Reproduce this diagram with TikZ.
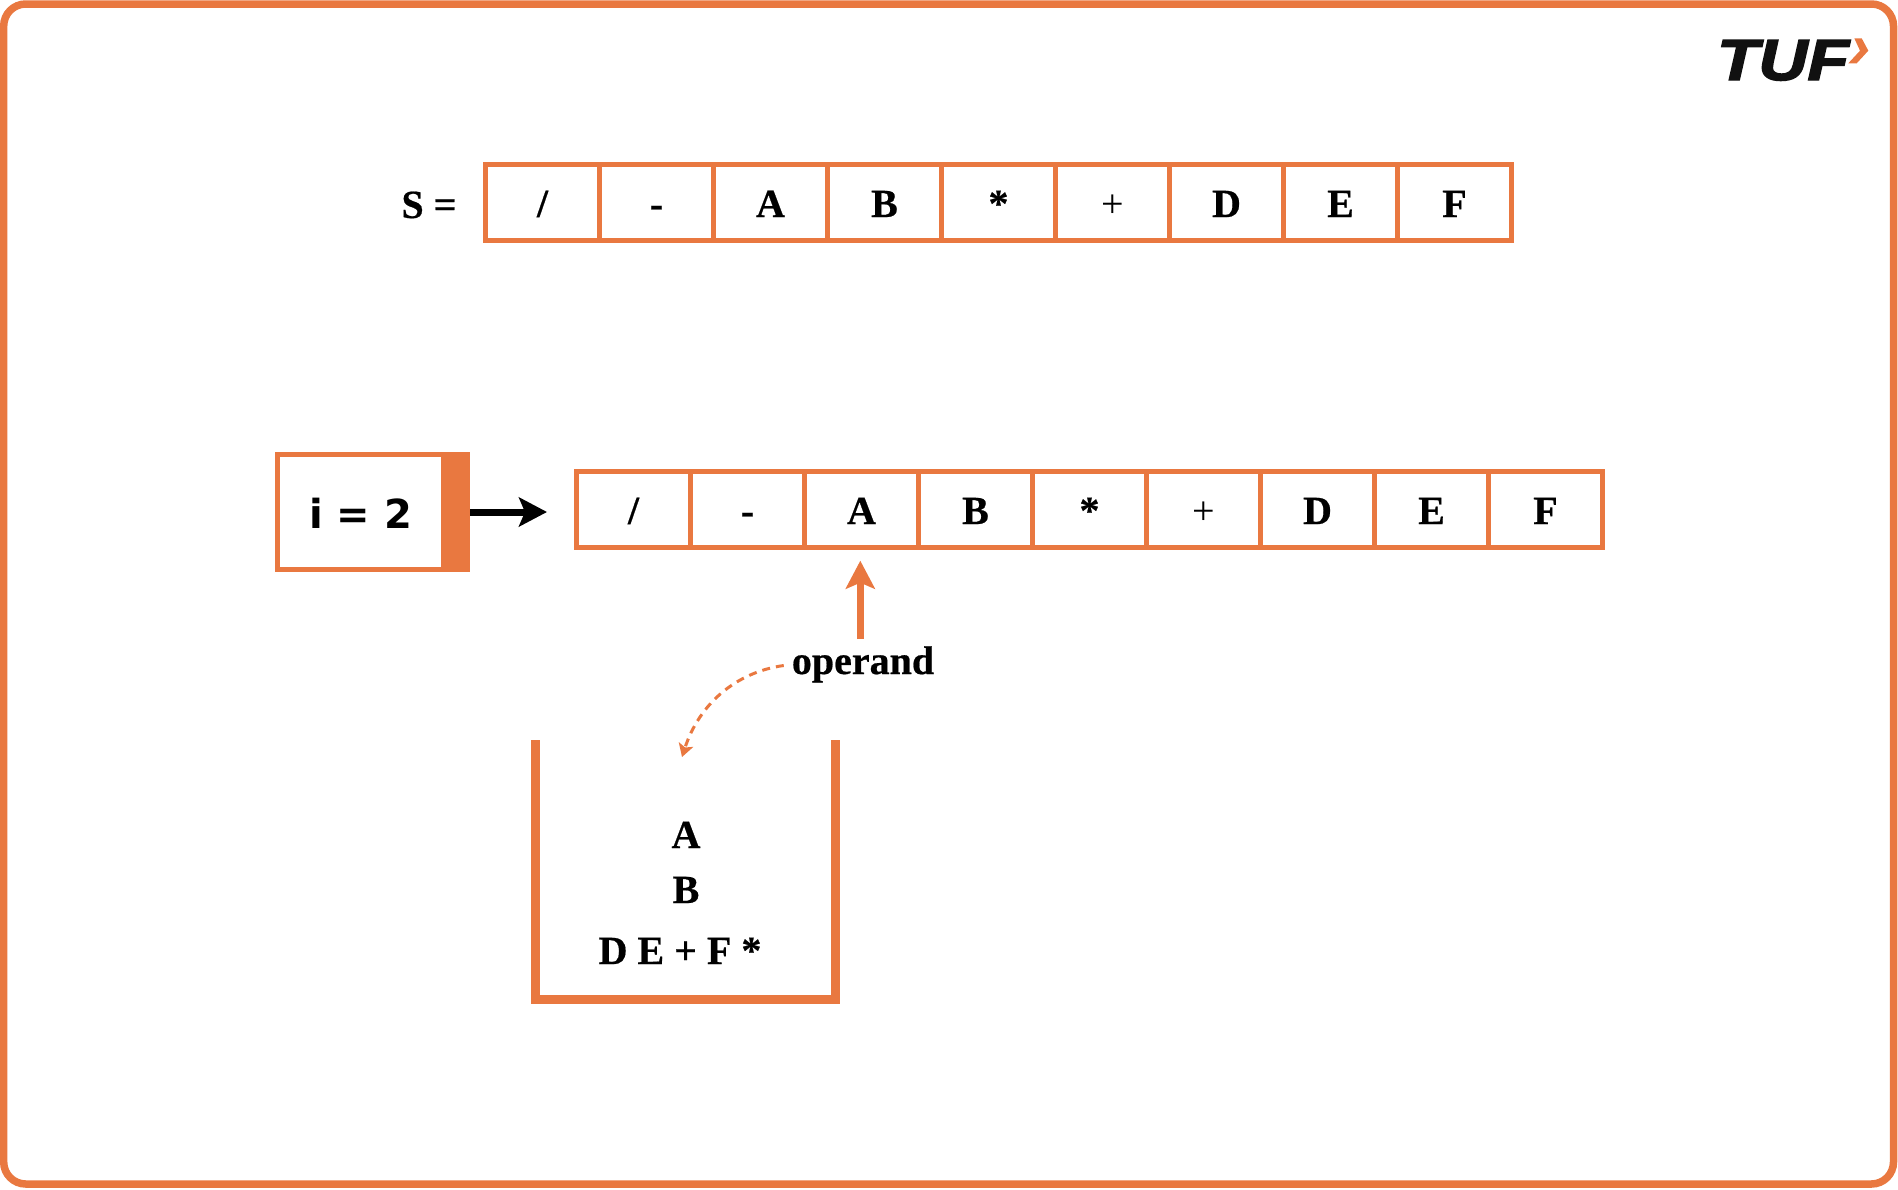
\documentclass[tikz,border=0pt]{standalone}
\usepackage{xcolor}
\usepackage{fontspec}
\setmainfont{Liberation Serif}[BoldFeatures={FakeBold=0.5}]
\newfontfamily\ifont{DejaVu Sans}
\newfontfamily\logofont{Liberation Sans}[BoldItalicFeatures={FakeBold=2.5}]
\usetikzlibrary{arrows.meta}
\definecolor{tuforange}{HTML}{E97840}
\definecolor{tufblack}{HTML}{111111}
\newcommand{\labelsize}{\fontsize{40}{40}\selectfont\bfseries}
\tikzset{
    cellbox/.style={draw=tuforange,line width=5pt,minimum width=114pt,minimum height=76pt,text height=29pt,text depth=0pt,font=\labelsize},
    plainlabel/.style={anchor=base,font=\labelsize},
    counterbox/.style={draw=tuforange,line width=5pt,minimum width=166pt,minimum height=115pt,text height=32pt,text depth=0pt,font=\fontsize{40}{40}\selectfont\ifont\bfseries},
    counterbar/.style={fill=tuforange,minimum width=29pt,minimum height=120pt},
    bigarrow/.style={line width=7pt,-{Stealth[length=28pt,width=29pt,inset=6pt]}},
    dasharrow/.style={tuforange,line width=3pt,dash pattern=on 8pt off 6pt,-{Stealth[length=13pt,width=15pt,inset=3pt]}}
}
\begin{document}
\begin{tikzpicture}[x=1pt,y=1pt]
                \tikzstyle{every node}+=[inner sep=0pt]
                \useasboundingbox (0,-1189) rectangle (1898,0);
                \draw [tuforange,line width=7.5pt,rounded corners=22pt] (3.7,-4) rectangle (1893.5,-1184);
                \node [plainlabel] (slabel) at (429,-218) {S =};
                \node [cellbox] (a1) at (542.5,-202.5) {/};
                \node [cellbox] (a2) at (656.5,-202.5) {-};
                \node [cellbox] (a3) at (770.5,-202.5) {A};
                \node [cellbox] (a4) at (884.5,-202.5) {B};
                \node [cellbox] (a5) at (998.5,-202.5) {*};
                \node [cellbox] (a6) at (1112.5,-202.5) {\mdseries +};
                \node [cellbox] (a7) at (1226.5,-202.5) {D};
                \node [cellbox] (a8) at (1340.5,-202.5) {E};
                \node [cellbox] (a9) at (1454.5,-202.5) {F};
                \node [cellbox] (b1) at (633.5,-509.5) {/};
                \node [cellbox] (b2) at (747.5,-509.5) {-};
                \node [cellbox] (b3) at (861.5,-509.5) {A};
                \node [cellbox] (b4) at (975.5,-509.5) {B};
                \node [cellbox] (b5) at (1089.5,-509.5) {*};
                \node [cellbox] (b6) at (1203.5,-509.5) {\mdseries +};
                \node [cellbox] (b7) at (1317.5,-509.5) {D};
                \node [cellbox] (b8) at (1431.5,-509.5) {E};
                \node [cellbox] (b9) at (1545.5,-509.5) {F};
                \node [counterbox] (ibox) at (360.5,-512) {i = 2};
                \node [counterbar] (ibar) at (455.5,-512) {};
                \draw [black,bigarrow,shorten >=27pt] (ibar.east) -- (ibar.east -| b1.west);
                \node [plainlabel] (operand) at (863,-674) {operand};
                \draw [tuforange,bigarrow,shorten <=7pt,shorten >=10.7pt] ([xshift=-2.7pt]operand.north) -- ([xshift=-2.7pt]operand.north |- b3.south);
                \coordinate (stacktop) at (682,-757);
                \draw [dasharrow,shorten <=8pt] (operand.west) to [out=188,in=72] (stacktop);
                \draw [tuforange,line width=9pt] (535.5,-740) -- (535.5,-999.5) -- (835.5,-999.5) -- (835.5,-740);
                \node [plainlabel] (stack1) at (686,-848) {A};
                \node [plainlabel] (stack2) at (686,-903) {B};
                \node [plainlabel] (stack3) at (680,-964) {D E + F *};
                \node [anchor=base,text=tufblack,font=\fontsize{58}{58}\selectfont\logofont\bfseries\itshape] (logo) at (1783,-80) {\scalebox{1.17}[1]{TUF}};
                \fill [tuforange] (1854.3,-38.3) -- (1861.7,-38.3) -- (1868.3,-50.7) -- (1856.7,-63.3) -- (1848.3,-63.3) -- (1860,-50.7) -- cycle;
\end{tikzpicture}
\end{document}
